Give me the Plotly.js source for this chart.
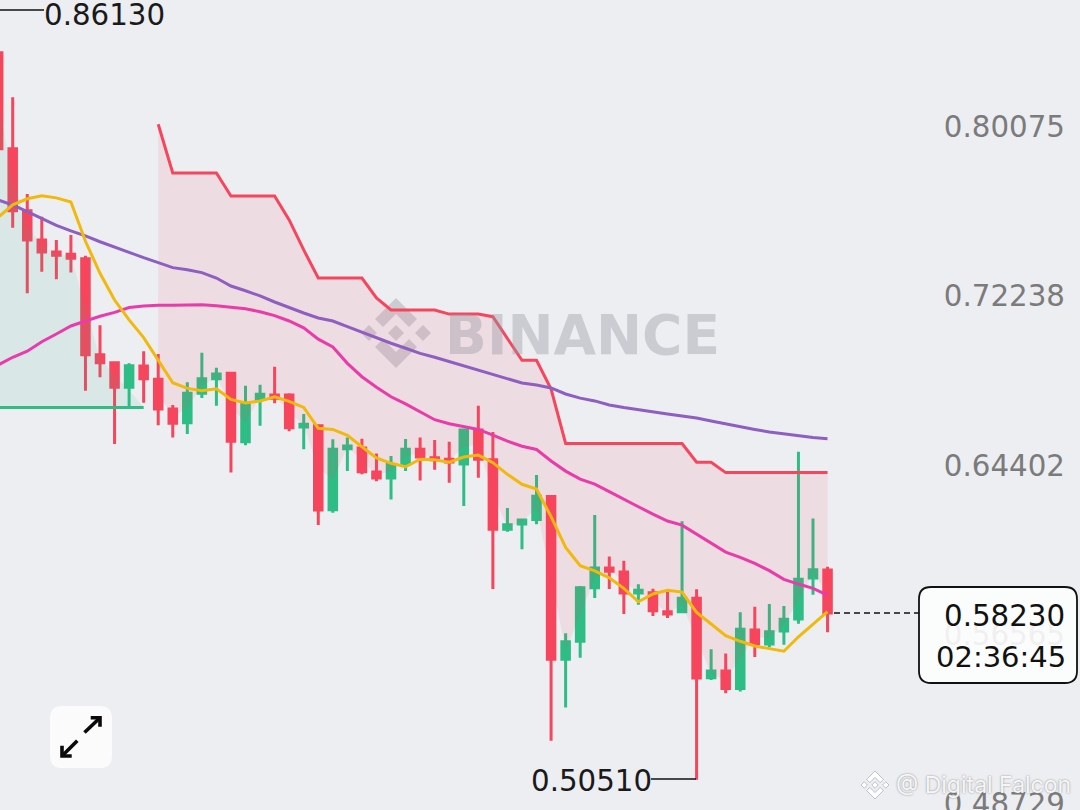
<!DOCTYPE html>
<html>
<head>
<meta charset="utf-8">
<script src="https://cdn.plot.ly/plotly-3.0.1.min.js"></script>
<style>html,body{margin:0;padding:0;background:#ECEEF2;overflow:hidden;width:1080px;height:810px}</style>
</head>
<body>
<div id="chart" style="width:1080px;height:860px"></div>
<script>
// Candles, from the partly hidden candle at the left edge to the live candle
const openPrices  = [0.8417,0.7973,0.7686,0.7550,0.7494,0.7484,0.7463,0.7019,0.6982,0.6868,0.6967,0.6905,0.6768,0.6704,0.6840,0.6908,0.6933,0.6616,0.6812,0.6832,0.6832,0.6684,0.6690,0.6301,0.6584,0.6587,0.6476,0.6448,0.6513,0.6581,0.6542,0.6535,0.6513,0.6670,0.6533,0.6211,0.6235,0.6256,0.6362,0.5609,0.5692,0.5940,0.6031,0.6013,0.5916,0.5917,0.5829,0.5829,0.5891,0.5523,0.5554,0.5474,0.5744,0.5680,0.5740,0.5795,0.5985,0.6022];
const closePrices = [0.7973,0.7686,0.7550,0.7494,0.7479,0.7465,0.7019,0.6982,0.6868,0.6968,0.6908,0.6768,0.6701,0.6840,0.6908,0.6930,0.6618,0.6794,0.6836,0.6817,0.6681,0.6697,0.6300,0.6581,0.6596,0.6477,0.6448,0.6511,0.6581,0.6545,0.6533,0.6522,0.6670,0.6535,0.6211,0.6232,0.6254,0.6364,0.5609,0.5690,0.5940,0.6031,0.6016,0.5916,0.5928,0.5834,0.5818,0.5891,0.5522,0.5554,0.5474,0.5748,0.5680,0.5736,0.5794,0.5979,0.6023,0.5823];
const highPrices  = [0.8613,0.8211,0.7763,0.7658,0.7550,0.7573,0.7477,0.7155,0.6985,0.6979,0.7035,0.7022,0.6786,0.6891,0.7028,0.6959,0.6937,0.6875,0.6880,0.6963,0.6840,0.6744,0.6697,0.6627,0.6635,0.6630,0.6561,0.6550,0.6629,0.6636,0.6624,0.6616,0.6675,0.6783,0.6661,0.6309,0.6261,0.6462,0.6366,0.5729,0.5948,0.6277,0.6085,0.6065,0.5956,0.5935,0.5930,0.6248,0.5933,0.5655,0.5636,0.5826,0.5852,0.5865,0.5855,0.6570,0.6261,0.6037];
const lowPrices   = [0.7973,0.7607,0.7303,0.7403,0.7368,0.7400,0.6852,0.6914,0.6605,0.6778,0.6797,0.6692,0.6635,0.6652,0.6818,0.6783,0.6473,0.6600,0.6690,0.6794,0.6664,0.6581,0.6230,0.6287,0.6480,0.6465,0.6433,0.6349,0.6480,0.6437,0.6486,0.6426,0.6318,0.6449,0.5934,0.6199,0.6118,0.6234,0.5232,0.5386,0.5616,0.5892,0.5934,0.5818,0.5861,0.5809,0.5800,0.5828,0.5051,0.5513,0.5451,0.5459,0.5619,0.5664,0.5676,0.5773,0.5908,0.5734];

// Moving averages
const emaFast = [0.7655,0.7713,0.7741,0.7755,0.7745,0.7726,0.7544,0.7396,0.7272,0.7180,0.7098,0.6994,0.6889,0.6863,0.6852,0.6861,0.6812,0.6795,0.6805,0.6824,0.6803,0.6775,0.6678,0.6673,0.6646,0.6593,0.6541,0.6516,0.6500,0.6535,0.6533,0.6521,0.6545,0.6554,0.6519,0.6465,0.6419,0.6397,0.6269,0.6127,0.6042,0.6018,0.5986,0.5937,0.5875,0.5911,0.5928,0.5920,0.5826,0.5772,0.5718,0.5692,0.5670,0.5658,0.5646,0.5713,0.5773,0.5829];
const emaMid  = [0.6971,0.7007,0.7035,0.7079,0.7115,0.7152,0.7175,0.7197,0.7215,0.7237,0.7244,0.7248,0.7248,0.7249,0.7250,0.7246,0.7238,0.7232,0.7218,0.7200,0.7175,0.7143,0.7091,0.7055,0.6979,0.6917,0.6868,0.6824,0.6791,0.6755,0.6718,0.6699,0.6687,0.6673,0.6647,0.6619,0.6595,0.6580,0.6527,0.6480,0.6443,0.6420,0.6385,0.6349,0.6315,0.6281,0.6249,0.6230,0.6189,0.6146,0.6105,0.6081,0.6053,0.6019,0.5979,0.5957,0.5937,0.5906];
const emaSlow = [0.7735,0.7712,0.7681,0.7651,0.7618,0.7592,0.7569,0.7542,0.7516,0.7493,0.7468,0.7445,0.7422,0.7412,0.7399,0.7374,0.7337,0.7315,0.7291,0.7263,0.7237,0.7212,0.7189,0.7175,0.7149,0.7123,0.7095,0.7072,0.7049,0.7025,0.7007,0.6987,0.6968,0.6948,0.6928,0.6908,0.6888,0.6879,0.6865,0.6837,0.6818,0.6805,0.6786,0.6774,0.6763,0.6754,0.6744,0.6735,0.6726,0.6712,0.6698,0.6684,0.6673,0.6661,0.6652,0.6642,0.6636,0.6630];

// Supertrend: up leg (first 11 candles), down leg (the remaining 47)
const trendUp   = [0.6775,0.6775,0.6775,0.6775,0.6775,0.6775,0.6775,0.6775,0.6775,0.6775,0.6775];
const trendUpMid = [0.8195,0.7830,0.7618,0.7522,0.7487,0.7475,0.7241,0.7001,0.6925,0.6856,0.6775];
const trendDown = [0.8086,0.7860,0.7860,0.7860,0.7860,0.7754,0.7754,0.7754,0.7754,0.7643,0.7504,0.7374,0.7374,0.7374,0.7374,0.7282,0.7226,0.7226,0.7226,0.7226,0.7207,0.7207,0.7207,0.7195,0.7093,0.6993,0.6993,0.6860,0.6608,0.6608,0.6608,0.6608,0.6608,0.6608,0.6608,0.6608,0.6608,0.6521,0.6521,0.6473,0.6473,0.6473,0.6473,0.6473,0.6473,0.6473,0.6473];
const trendDownMid = [0.6837,0.6735,0.6772,0.6874,0.6919,0.6776,0.6705,0.6824,0.6825,0.6757,0.6691,0.6495,0.6441,0.6590,0.6532,0.6462,0.6480,0.6547,0.6563,0.6538,0.6529,0.6592,0.6603,0.6372,0.6222,0.6245,0.6310,0.5986,0.5650,0.5816,0.5986,0.6024,0.5965,0.5922,0.5876,0.5824,0.5860,0.5707,0.5539,0.5514,0.5611,0.5712,0.5708,0.5767,0.5887,0.6004,0.5923];

// Price-scale labels; the app prints each one a little above its level
const tickValues = [0.80075,0.72238,0.64402,0.56565,0.48729];
const tickLabels = ['0.80075','0.72238','0.64402','0.56565','0.48729'];
const labelLift = 0.0066;

const candleIndex = openPrices.map((_, i) => i - 1);
const xUp = candleIndex.slice(0, trendUp.length);
const xDown = candleIndex.slice(trendUp.length);

const W = 1080, H = 860;
const px = x => x / W;
const py = y => 1 - y / H;
const FONT = '"DejaVu Sans", Inter, sans-serif';
const BG = '#ECEEF2';

function line(y, color, width) {
  return {type:'scatter', mode:'lines', x:candleIndex, y:y, line:{color:color, width:width, shape:'linear'}, hoverinfo:'skip', showlegend:false};
}

const traces = [
  {type:'candlestick', x:candleIndex, open:openPrices, high:highPrices, low:lowPrices, close:closePrices,
   increasing:{line:{color:'#2EBD85', width:3}, fillcolor:'#2EBD85'},
   decreasing:{line:{color:'#F6465D', width:3}, fillcolor:'#F6465D'},
   whiskerwidth:0, hoverinfo:'skip', showlegend:false},
  {type:'scatter', mode:'lines', x:xUp, y:trendUpMid, line:{width:0, color:'rgba(0,0,0,0)'}, hoverinfo:'skip', showlegend:false},
  {type:'scatter', mode:'lines', x:xUp, y:trendUp, fill:'tonexty', fillcolor:'rgba(46,189,133,0.10)', line:{color:'#2EBD85', width:3}, hoverinfo:'skip', showlegend:false},
  {type:'scatter', mode:'lines', x:xDown, y:trendDownMid, line:{width:0, color:'rgba(0,0,0,0)'}, hoverinfo:'skip', showlegend:false},
  {type:'scatter', mode:'lines', x:xDown, y:trendDown, fill:'tonexty', fillcolor:'rgba(246,70,93,0.10)', line:{color:'#F6465D', width:3}, hoverinfo:'skip', showlegend:false},
  line(emaSlow, '#8E5FC0', 3),
  line(emaMid, '#E93CAA', 3),
  line(emaFast, '#F0B90B', 3)
];

// path helpers, page pixels -> paper coordinates
function poly(points) {
  return 'M' + points.map(p => px(p[0]) + ',' + py(p[1])).join('L') + 'Z';
}
function open(points) {
  return 'M' + points.map(p => px(p[0]) + ',' + py(p[1])).join('L');
}
function roundRect(x0, y0, x1, y1, r) {
  const p = (x, y) => px(x) + ',' + py(y);
  const arc = (x, y, ex, ey) => 'Q' + p(x, y) + ' ' + p(ex, ey);
  return 'M' + p(x0 + r, y0) + 'L' + p(x1 - r, y0) + arc(x1, y0, x1, y0 + r) + 'L' + p(x1, y1 - r) + arc(x1, y1, x1 - r, y1) +
         'L' + p(x0 + r, y1) + arc(x0, y1, x0, y1 - r) + 'L' + p(x0, y0 + r) + arc(x0, y0, x0 + r, y0) + 'Z';
}
function logoPaths(cx, cy, R) {
  const k = R / 35, t = pts => pts.map(p => [cx + p[0] * k, cy + p[1] * k]);
  return [
    [[0,-8],[8,0],[0,8],[-8,0]],
    [[-27,-8],[-19,0],[-27,8],[-35,0]],
    [[27,-8],[35,0],[27,8],[19,0]],
    [[0,-35],[21,-14],[13,-6],[0,-19],[-13,-6],[-21,-14]],
    [[0,35],[21,14],[13,6],[0,19],[-13,6],[-21,14]]
  ].map(pts => poly(t(pts)));
}
const paper = {xref:'paper', yref:'paper'};
const shapes = [];
logoPaths(396, 333, 35).forEach(d => shapes.push({...paper, type:'path', path:d, fillcolor:'rgba(150,150,158,0.38)', line:{width:0}, layer:'below'}));
logoPaths(875, 785, 14).forEach(d => shapes.push({...paper, type:'path', path:d, fillcolor:'rgba(255,255,255,0.9)', line:{color:'rgba(120,120,120,0.6)', width:0.7}, layer:'above'}));
// expand button
shapes.push({...paper, type:'path', path:roundRect(50,706,112,768,12), fillcolor:'#FBFBFC', line:{width:0}, layer:'above'});
const arrow = {...paper, type:'path', fillcolor:'rgba(0,0,0,0)', line:{color:'#0A0A0A', width:3.6}, layer:'above'};
shapes.push({...arrow, path:open([[84.5,732.5],[100,717.7]])});
shapes.push({...arrow, path:open([[90.7,717.7],[100,717.7],[100,726.7]])});
shapes.push({...arrow, path:open([[77.3,740.7],[62,756]])});
shapes.push({...arrow, path:open([[62,745.7],[62,756],[71.7,756]])});
// high / low leaders
shapes.push({...paper, type:'line', x0:px(0), x1:px(44), y0:py(10), y1:py(10), line:{color:'#111', width:1.5}, layer:'above'});
shapes.push({...paper, type:'line', x0:px(651), x1:px(696), y0:py(779), y1:py(779), line:{color:'#111', width:1.5}, layer:'above'});
// last price
shapes.push({...paper, type:'line', x0:px(834), x1:px(919), y0:py(613), y1:py(613), line:{color:'#111', width:1.6, dash:'6px,4px'}, layer:'above'});
shapes.push({...paper, type:'path', path:roundRect(919,587,1077,683,12), fillcolor:'rgba(253,253,253,0.9)', line:{color:'#111', width:1.8}, layer:'above'});

function note(text, x, y, anchor, size, color, family) {
  return {...paper, text:text, x:px(x), y:py(y), xanchor:anchor, yanchor:'middle', showarrow:false,
    font:{family:family || FONT, size:size, color:color}};
}
const annotations = [
  note('0.86130', 42, 15, 'left', 29.3, '#1A1A1A'),
  note('0.50510', 529, 781, 'left', 29.3, '#1A1A1A'),
  note('0.58230', 1067, 616, 'right', 29.3, '#111111'),
  note('02:36:45', 1067.5, 657, 'right', 29, '#111111'),
  note('<b>BINANCE</b>', 443, 335, 'left', 55, 'rgba(150,150,158,0.38)'),
];
const signature = note('@ Digital Falcon', 894, 785, 'left', 23, 'rgba(255,255,255,0.92)', 'Inter, sans-serif');
signature.font.shadow = '0 0 2px rgba(110,110,110,0.9)';
annotations.push(signature);

const layout = {
  width:W, height:H, margin:{l:0,r:0,t:0,b:0,pad:0},
  paper_bgcolor:BG, plot_bgcolor:BG, showlegend:false, boxgap:0.26, hovermode:false,
  xaxis:{range:[-0.873,73.35], visible:false, showgrid:false, zeroline:false, rangeslider:{visible:false}, fixedrange:true},
  yaxis:{range:[0.46794,0.86612], side:'right', showgrid:false, zeroline:false, showline:false, ticks:'',
    tickmode:'array', tickvals:tickValues.map(v => v + labelLift), ticktext:tickLabels, ticklabelposition:'inside',
    ticklabelstandoff:12, tickfont:{family:FONT, size:29.3, color:'#7B7B7B'}, fixedrange:true},
  shapes:shapes, annotations:annotations
};
Plotly.newPlot('chart', traces, layout, {displayModeBar:false, staticPlot:true});
</script>
</body>
</html>
